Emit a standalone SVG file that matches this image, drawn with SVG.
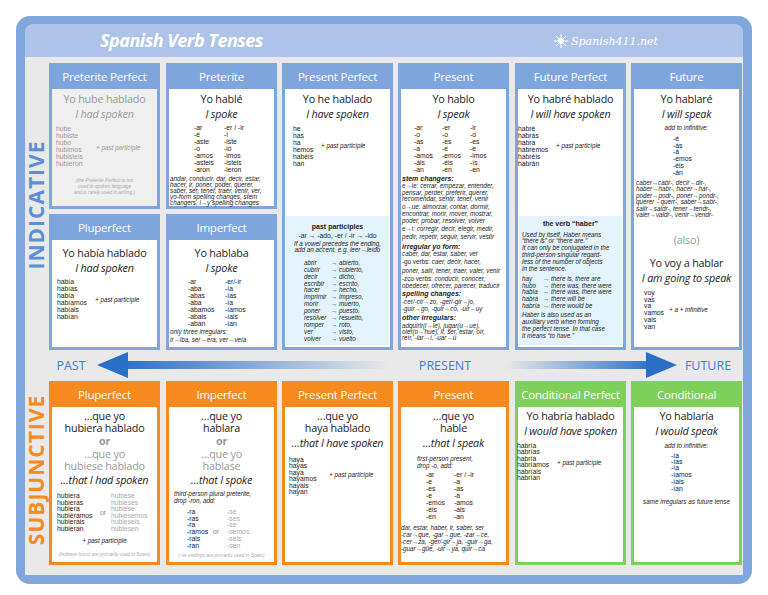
<svg xmlns="http://www.w3.org/2000/svg" width="768" height="595" viewBox="0 0 768 595">
<style>
.hd{font-family:"Open Sans","Noto Sans",sans-serif;font-size:11.5px;fill:#fff;text-anchor:middle;letter-spacing:-0.2px}
.yo{font-family:"Open Sans","Noto Sans",sans-serif;font-size:10.8px;fill:#222;text-anchor:middle;letter-spacing:-0.2px}
.en{font-family:"Open Sans","Noto Sans",sans-serif;font-size:10.8px;font-style:italic;fill:#222;text-anchor:middle;letter-spacing:-0.2px}
.g{fill:#999}
.s{font-family:"Liberation Sans",Arial,sans-serif;font-size:6.8px;fill:#222}
.si{font-family:"Liberation Sans",Arial,sans-serif;font-size:6.3px;font-style:italic;fill:#222}
.sb{font-family:"Liberation Sans",Arial,sans-serif;font-size:7px;font-weight:bold;fill:#222}
.tiny{font-family:"Liberation Sans",Arial,sans-serif;font-size:4.8px;font-style:italic;fill:#aaa;text-anchor:middle}
.c{text-anchor:middle}
.blue{fill:#7fa6dc}.org{fill:#f68a1f}.grn{fill:#7fcf5b}
.wh{fill:#fff}
.tl{font-family:"Open Sans","Noto Sans",sans-serif;font-size:12.5px;fill:#3f7fd0;text-anchor:middle}
</style>
<defs>
<linearGradient id="gl" x1="0" x2="1"><stop offset="0" stop-color="#2a6fc6"/><stop offset="1" stop-color="#2a6fc6" stop-opacity="0"/></linearGradient>
<linearGradient id="gr" x1="1" x2="0"><stop offset="0" stop-color="#2a6fc6"/><stop offset="1" stop-color="#2a6fc6" stop-opacity="0"/></linearGradient>
</defs>
<rect width="768" height="595" fill="#fff"/>
<rect x="16" y="16" width="736" height="568" rx="14" fill="#80a7dd"/>
<rect x="25" y="24" width="718" height="40" rx="8" fill="#adc3e8"/>
<rect x="25" y="57" width="718" height="518" fill="#e9e9e9"/>
<text x="100" y="47" font-family="Open Sans,sans-serif" font-size="18" font-weight="bold" font-style="italic" fill="#fff" letter-spacing="-0.5">Spanish Verb Tenses</text>
<g stroke="#fff" stroke-width="1"><circle cx="561" cy="41" r="2.5" fill="#fff"/><path d="M561 34v14M554 41h14M556 36l10 10M566 36l-10 10"/></g>
<text x="571" y="45" font-family="DejaVu Serif,serif" font-size="11" font-style="italic" fill="#fff">Spanish411.net</text>
<text transform="translate(44,205) rotate(-90)" text-anchor="middle" font-family="Open Sans,sans-serif" font-size="21" font-weight="bold" fill="#5b8fd6" letter-spacing="1">INDICATIVE</text>
<text transform="translate(44,470) rotate(-90)" text-anchor="middle" font-family="Open Sans,sans-serif" font-size="21" font-weight="bold" fill="#f68a1f" letter-spacing="1">SUBJUNCTIVE</text>

<g id="preterite-perfect">
<rect x="49" y="63" width="111" height="146" class="blue"/><rect x="52" y="89" width="105" height="117" fill="#efefef"/>
<text x="104.5" y="81" class="hd">Preterite Perfect</text>
<text x="104.5" y="103" class="yo g">Yo hube hablado</text>
<text x="104.5" y="118" class="en g">I had spoken</text>
<g class="s" style="fill:#999"><text x="56" y="131">hube</text><text x="56" y="138">hubiste</text><text x="56" y="145">hubo</text><text x="56" y="152">hubimos</text><text x="56" y="159">hubisteis</text><text x="56" y="166">hubieron</text></g>
<text x="96" y="150" class="si" style="fill:#999">+ past participle</text>
<g class="tiny"><text x="104.5" y="182">(the Preterite Perfect is not</text><text x="104.5" y="188">used in spoken language</text><text x="104.5" y="194">and is rarely used in writing.)</text></g>
</g>
<g id="preterite">
<rect x="166" y="63" width="111" height="146" class="blue"/><rect x="169" y="89" width="105" height="117" class="wh"/>
<text x="221.5" y="81" class="hd">Preterite</text>
<text x="221.5" y="103" class="yo">Yo hablé</text>
<text x="221.5" y="118" class="en">I spoke</text>
<g class="s"><text x="194" y="130">-ar</text><text x="194" y="137">-é</text><text x="194" y="144">-aste</text><text x="194" y="151">-ó</text><text x="194" y="158">-amos</text><text x="194" y="165">-asteis</text><text x="194" y="172">-aron</text>
<text x="224" y="130">-er / -ir</text><text x="224" y="137">-í</text><text x="224" y="144">-iste</text><text x="224" y="151">-ió</text><text x="224" y="158">-imos</text><text x="224" y="165">-isteis</text><text x="224" y="172">-ieron</text></g>
<g class="si"><text x="170" y="181">andar, conducir, dar, decir, estar,</text><text x="170" y="187">hacer, ir, poner, poder, querer,</text><text x="170" y="193">saber, ser, tener, traer, venir, ver,</text><text x="170" y="199">yo-form spelling changes, stem</text><text x="170" y="205">changers, i→y spelling changes</text></g>
</g>
<g id="present-perfect">
<rect x="282" y="63" width="111" height="287" class="blue"/><rect x="285" y="89" width="105" height="258" class="wh"/>
<rect x="286" y="216" width="103" height="129" fill="#e3f3fb"/>
<text x="337.5" y="81" class="hd">Present Perfect</text>
<text x="337.5" y="103" class="yo">Yo he hablado</text>
<text x="337.5" y="118" class="en">I have spoken</text>
<g class="s"><text x="293" y="131">he</text><text x="293" y="138">has</text><text x="293" y="145">ha</text><text x="293" y="152">hemos</text><text x="293" y="159">habéis</text><text x="293" y="166">han</text></g>
<text x="321" y="148" class="si">+ past participle</text>
<text x="337.5" y="229" class="sb c">past participles</text>
<text x="337.5" y="238" class="s c">-ar → -ado, -er / -ir → -ido</text>
<text x="337.5" y="246" class="si c">If a vowel precedes the ending,</text>
<text x="337.5" y="252" class="si c">add an accent. e.g. leer→leído</text>
<g class="si"><text x="304" y="265">abrir</text><text x="304" y="272">cubrir</text><text x="304" y="279">decir</text><text x="304" y="286">escribir</text><text x="304" y="292">hacer</text><text x="304" y="299">imprimir</text><text x="304" y="306">morir</text><text x="304" y="313">poner</text><text x="304" y="320">resolver</text><text x="304" y="327">romper</text><text x="304" y="334">ver</text><text x="304" y="341">volver</text>
<text x="331" y="265">→ abierto,</text><text x="331" y="272">→ cubierto,</text><text x="331" y="279">→ dicho,</text><text x="331" y="286">→ escrito,</text><text x="331" y="292">→ hecho,</text><text x="331" y="299">→ impreso,</text><text x="331" y="306">→ muerto,</text><text x="331" y="313">→ puesto,</text><text x="331" y="320">→ resuelto,</text><text x="331" y="327">→ roto,</text><text x="331" y="334">→ visto,</text><text x="331" y="341">→ vuelto</text></g>
</g>
<g id="present">
<rect x="398" y="63" width="111" height="287" class="blue"/><rect x="401" y="89" width="105" height="258" class="wh"/>
<text x="453.5" y="81" class="hd">Present</text>
<text x="453.5" y="103" class="yo">Yo hablo</text>
<text x="453.5" y="118" class="en">I speak</text>
<g class="s"><text x="414" y="130">-ar</text><text x="414" y="137">-o</text><text x="414" y="144">-as</text><text x="414" y="151">-a</text><text x="414" y="158">-amos</text><text x="414" y="165">-áis</text><text x="414" y="172">-an</text>
<text x="442" y="130">-er</text><text x="442" y="137">-o</text><text x="442" y="144">-es</text><text x="442" y="151">-e</text><text x="442" y="158">-emos</text><text x="442" y="165">-éis</text><text x="442" y="172">-en</text>
<text x="470" y="130">-ir</text><text x="470" y="137">-o</text><text x="470" y="144">-es</text><text x="470" y="151">-e</text><text x="470" y="158">-imos</text><text x="470" y="165">-ís</text><text x="470" y="172">-en</text></g>
<g class="si">
<text x="402" y="181" class="sb">stem changers:</text>
<text x="402" y="188"><tspan font-style="normal">e→ie:</tspan> cerrar, empezar, entender,</text>
<text x="402" y="195">pensar, perder, preferir, querer,</text>
<text x="402" y="201">recomendar, sentir, tener, venir</text>
<text x="402" y="209"><tspan font-style="normal">o→ue:</tspan> almorzar, contar, dormir,</text>
<text x="402" y="216">encontrar, morir, mover, mostrar,</text>
<text x="402" y="223">poder, probar, resolver, volver</text>
<text x="402" y="231"><tspan font-style="normal">e→i:</tspan> corregir, decir, elegir, medir,</text>
<text x="402" y="239">pedir, repetir, seguir, servir, vestir</text>
<text x="402" y="249" class="sb">irregular yo form:</text>
<text x="402" y="256">caber, dar, estar, saber, ver</text>
<text x="402" y="264"><tspan font-style="normal">-go verbs:</tspan> caer, decir, hacer,</text>
<text x="402" y="273">poner, salir, tener, traer, valer, venir</text>
<text x="402" y="281"><tspan font-style="normal">-zco verbs:</tspan> conducir, conocer,</text>
<text x="402" y="288">obedecer, ofrecer, parecer, traducir</text>
<text x="402" y="296" class="sb">spelling changes:</text>
<text x="402" y="304">-cer/-cir→zo, -ger/-gir→jo,</text>
<text x="402" y="311">-guir→go, -quir→co, -uir→uy</text>
<text x="402" y="320" class="sb">other irregulars:</text>
<text x="402" y="328">adquirir(i→ie), jugar(u→ue),</text>
<text x="402" y="334">oler(o→hue), ir, ser, estar, oír,</text>
<text x="402" y="340">reír, -iar→í, -uar→ú</text>
</g>
</g>
<g id="future-perfect">
<rect x="515" y="63" width="111" height="287" class="blue"/><rect x="518" y="89" width="105" height="258" class="wh"/>
<rect x="519" y="216" width="103" height="129" fill="#e3f3fb"/>
<text x="570.5" y="81" class="hd">Future Perfect</text>
<text x="570.5" y="103" class="yo">Yo habré hablado</text>
<text x="570.5" y="118" class="en">I will have spoken</text>
<g class="s"><text x="518" y="131">habré</text><text x="518" y="138">habrás</text><text x="518" y="145">habrá</text><text x="518" y="152">habremos</text><text x="518" y="159">habréis</text><text x="518" y="166">habrán</text></g>
<text x="556" y="148" class="si">+ past participle</text>
<text x="570.5" y="226" class="sb c">the verb “haber”</text>
<g class="si"><text x="522" y="237">Used by itself, Haber means</text><text x="522" y="243">“there is” or “there are.”</text><text x="522" y="250">It can only be conjugated in the</text><text x="522" y="257">third-person singular regard-</text><text x="522" y="264">less of the number of objects</text><text x="522" y="271">in the sentence.</text>
<text x="522" y="281">hay</text><text x="522" y="288">hubo</text><text x="522" y="294">había</text><text x="522" y="301">habrá</text><text x="522" y="308">habría</text>
<text x="543" y="281">→ there is, there are</text><text x="543" y="288">→ there was, there were</text><text x="543" y="294">→ there was, there were</text><text x="543" y="301">→ there will be</text><text x="543" y="308">→ there would be</text>
<text x="522" y="317">Haber is also used as an</text><text x="522" y="324">auxiliary verb when forming</text><text x="522" y="331">the perfect tense.  In that case</text><text x="522" y="338">it means “to have.”</text></g>
</g>
<g id="future">
<rect x="631" y="63" width="111" height="287" class="blue"/><rect x="634" y="89" width="105" height="258" class="wh"/>
<text x="686.5" y="81" class="hd">Future</text>
<text x="686.5" y="103" class="yo">Yo hablaré</text>
<text x="686.5" y="118" class="en">I will speak</text>
<text x="686.5" y="130" class="si c">add to infinitive:</text>
<g class="s"><text x="673" y="141">-é</text><text x="673" y="148">-ás</text><text x="673" y="154">-á</text><text x="673" y="161">-emos</text><text x="673" y="168">-éis</text><text x="673" y="175">-án</text></g>
<g class="si"><text x="636" y="185">caber→cabr-, decir→dir-,</text><text x="636" y="191">haber→habr-, hacer→har-,</text><text x="636" y="198">poder→podr-, poner→pondr-,</text><text x="636" y="204">querer→querr-, saber→sabr-,</text><text x="636" y="211">salir→saldr-, tener→tendr-,</text><text x="636" y="217">valer→valdr-, venir→vendr-</text></g>
<text x="686.5" y="244" class="yo g">(also)</text>
<text x="686.5" y="267" class="yo" font-size="11.5">Yo voy a hablar</text>
<text x="686.5" y="282" class="en">I am going to speak</text>
<g class="s"><text x="644" y="295">voy</text><text x="644" y="302">vas</text><text x="644" y="308">va</text><text x="644" y="315">vamos</text><text x="644" y="322">vais</text><text x="644" y="329">van</text></g>
<text x="669" y="312" class="si">+ a + infinitive</text>
</g>
<g id="pluperfect">
<rect x="49" y="214" width="111" height="136" class="blue"/><rect x="52" y="240" width="105" height="107" class="wh"/>
<text x="104.5" y="232" class="hd">Pluperfect</text>
<text x="104.5" y="257" class="yo">Yo había hablado</text>
<text x="104.5" y="272" class="en">I had spoken</text>
<g class="s"><text x="57" y="284">había</text><text x="57" y="291">habías</text><text x="57" y="298">había</text><text x="57" y="305">habíamos</text><text x="57" y="312">habíais</text><text x="57" y="319">habían</text></g>
<text x="95" y="302" class="si">+ past participle</text>
</g>
<g id="imperfect">
<rect x="166" y="214" width="111" height="136" class="blue"/><rect x="169" y="240" width="105" height="107" class="wh"/>
<text x="221.5" y="232" class="hd">Imperfect</text>
<text x="221.5" y="257" class="yo">Yo hablaba</text>
<text x="221.5" y="272" class="en">I spoke</text>
<g class="s"><text x="188" y="284">-ar</text><text x="188" y="291">-aba</text><text x="188" y="298">-abas</text><text x="188" y="305">-aba</text><text x="188" y="312">-ábamos</text><text x="188" y="319">-abais</text><text x="188" y="326">-aban</text>
<text x="225" y="284">-er/-ir</text><text x="225" y="291">-ía</text><text x="225" y="298">-ías</text><text x="225" y="305">-ía</text><text x="225" y="312">-íamos</text><text x="225" y="319">-íais</text><text x="225" y="326">-ían</text></g>
<g class="si"><text x="170" y="334">only three irregulars:</text><text x="170" y="342">ir→iba, ser→era, ver→veía</text></g>
</g>
<g id="connectors">
<rect x="120" y="361" width="270" height="8" fill="url(#gl)"/>
<path d="M97 365 L128 352 L128 378 Z" fill="#2a6fc6"/>
<rect x="505" y="361" width="150" height="8" fill="url(#gr)"/>
<path d="M677 365 L646 352 L646 378 Z" fill="#2a6fc6"/>
</g>
<text x="71" y="370" class="tl">PAST</text>
<text x="445" y="370" class="tl">PRESENT</text>
<text x="708" y="370" class="tl">FUTURE</text>
<g id="subj-pluperfect">
<rect x="49" y="381" width="111" height="184" class="org"/><rect x="52" y="407" width="105" height="155" class="wh"/>
<text x="104.5" y="399" class="hd">Pluperfect</text>
<text x="104.5" y="420" class="yo">…que yo</text>
<text x="104.5" y="432" class="yo">hubiera hablado</text>
<text x="104.5" y="445" class="yo g" font-weight="bold">or</text>
<text x="104.5" y="458" class="yo g">…que yo</text>
<text x="104.5" y="470" class="yo g">hubiese hablado</text>
<text x="104.5" y="484" class="en">…that I had spoken</text>
<g class="s"><text x="57" y="498">hubiera</text><text x="57" y="505">hubieras</text><text x="57" y="511">hubiera</text><text x="57" y="518">hubiéramos</text><text x="57" y="524">hubierais</text><text x="57" y="531">hubieran</text></g>
<g class="s" style="fill:#aaa"><text x="111" y="498">hubiese</text><text x="111" y="505">hubieses</text><text x="111" y="511">hubiese</text><text x="111" y="518">hubiésemos</text><text x="111" y="524">hubieseis</text><text x="111" y="531">hubiesen</text></g>
<text x="100" y="515" class="s" style="fill:#888">or</text>
<text x="104.5" y="543" class="si c">+ past participle</text>
<text x="104.5" y="556" class="tiny">(hubiese forms are primarily used in Spain)</text>
</g>
<g id="subj-imperfect">
<rect x="166" y="381" width="111" height="184" class="org"/><rect x="169" y="407" width="105" height="155" class="wh"/>
<text x="221.5" y="399" class="hd">Imperfect</text>
<text x="221.5" y="420" class="yo">…que yo</text>
<text x="221.5" y="432" class="yo">hablara</text>
<text x="221.5" y="445" class="yo g" font-weight="bold">or</text>
<text x="221.5" y="458" class="yo g">…que yo</text>
<text x="221.5" y="470" class="yo g">hablase</text>
<text x="221.5" y="484" class="en">…that I spoke</text>
<g class="si"><text x="174" y="496">third-person plural preterite,</text><text x="174" y="503">drop -ron, add:</text></g>
<g class="s"><text x="187" y="514">-ra</text><text x="187" y="521">-ras</text><text x="187" y="527">-ra</text><text x="187" y="534">-ramos</text><text x="187" y="541">-rais</text><text x="187" y="548">-ran</text></g>
<g class="s" style="fill:#aaa"><text x="227" y="514">-se</text><text x="227" y="521">-ses</text><text x="227" y="527">-se</text><text x="227" y="534">-semos</text><text x="227" y="541">-seis</text><text x="227" y="548">-sen</text></g>
<text x="213" y="534" class="s" style="fill:#888">or</text>
<text x="221.5" y="557" class="tiny">(-se endings are primarily used in Spain)</text>
</g>
<g id="subj-present-perfect">
<rect x="282" y="381" width="111" height="184" class="org"/><rect x="285" y="407" width="105" height="155" class="wh"/>
<text x="337.5" y="399" class="hd">Present Perfect</text>
<text x="337.5" y="420" class="yo">…que yo</text>
<text x="337.5" y="432" class="yo">haya hablado</text>
<text x="337.5" y="447" class="en">…that I have spoken</text>
<g class="s"><text x="289" y="462">haya</text><text x="289" y="468">hayas</text><text x="289" y="475">haya</text><text x="289" y="481">hayamos</text><text x="289" y="488">hayáis</text><text x="289" y="494">hayan</text></g>
<text x="329" y="477" class="si">+ past participle</text>
</g>
<g id="subj-present">
<rect x="398" y="381" width="111" height="184" class="org"/><rect x="401" y="407" width="105" height="155" class="wh"/>
<text x="453.5" y="399" class="hd">Present</text>
<text x="453.5" y="420" class="yo">…que yo</text>
<text x="453.5" y="432" class="yo">hable</text>
<text x="453.5" y="447" class="en">…that I speak</text>
<g class="si"><text x="417" y="461">first-person present,</text><text x="417" y="468">drop -o, add:</text></g>
<g class="s"><text x="426" y="477">-ar</text><text x="426" y="484">-e</text><text x="426" y="491">-es</text><text x="426" y="498">-e</text><text x="426" y="505">-emos</text><text x="426" y="512">-éis</text><text x="426" y="519">-en</text>
<text x="454" y="477">-er / -ir</text><text x="454" y="484">-a</text><text x="454" y="491">-as</text><text x="454" y="498">-a</text><text x="454" y="505">-amos</text><text x="454" y="512">-áis</text><text x="454" y="519">-an</text></g>
<g class="si"><text x="401" y="530">dar, estar, haber, ir, saber, ser</text><text x="401" y="537">-car→que, -gar→gue, -zar→ce,</text><text x="401" y="544">-cer→za, -ger/-gir→ja, -guir→ga,</text><text x="401" y="551">-guar→güe, -uir→ya, quir→ca</text></g>
</g>
<g id="conditional-perfect">
<rect x="515" y="381" width="111" height="184" class="grn"/><rect x="518" y="407" width="105" height="155" class="wh"/>
<text x="570.5" y="399" class="hd">Conditional Perfect</text>
<text x="570.5" y="420" class="yo">Yo habría hablado</text>
<text x="570.5" y="435" class="en">I would have spoken</text>
<g class="s"><text x="517" y="448">habría</text><text x="517" y="454">habrías</text><text x="517" y="461">habría</text><text x="517" y="467">habríamos</text><text x="517" y="474">habríais</text><text x="517" y="480">habrían</text></g>
<text x="557" y="465" class="si">+ past participle</text>
</g>
<g id="conditional">
<rect x="631" y="381" width="111" height="184" class="grn"/><rect x="634" y="407" width="105" height="155" class="wh"/>
<text x="686.5" y="399" class="hd">Conditional</text>
<text x="686.5" y="420" class="yo">Yo hablaría</text>
<text x="686.5" y="435" class="en">I would speak</text>
<text x="686.5" y="448" class="si c">add to infinitive:</text>
<g class="s"><text x="671" y="458">-ía</text><text x="671" y="464">-ías</text><text x="671" y="470">-ía</text><text x="671" y="477">-íamos</text><text x="671" y="484">-íais</text><text x="671" y="491">-ían</text></g>
<text x="686.5" y="504" class="si c">same irregulars as future tense</text>
</g>
</svg>
